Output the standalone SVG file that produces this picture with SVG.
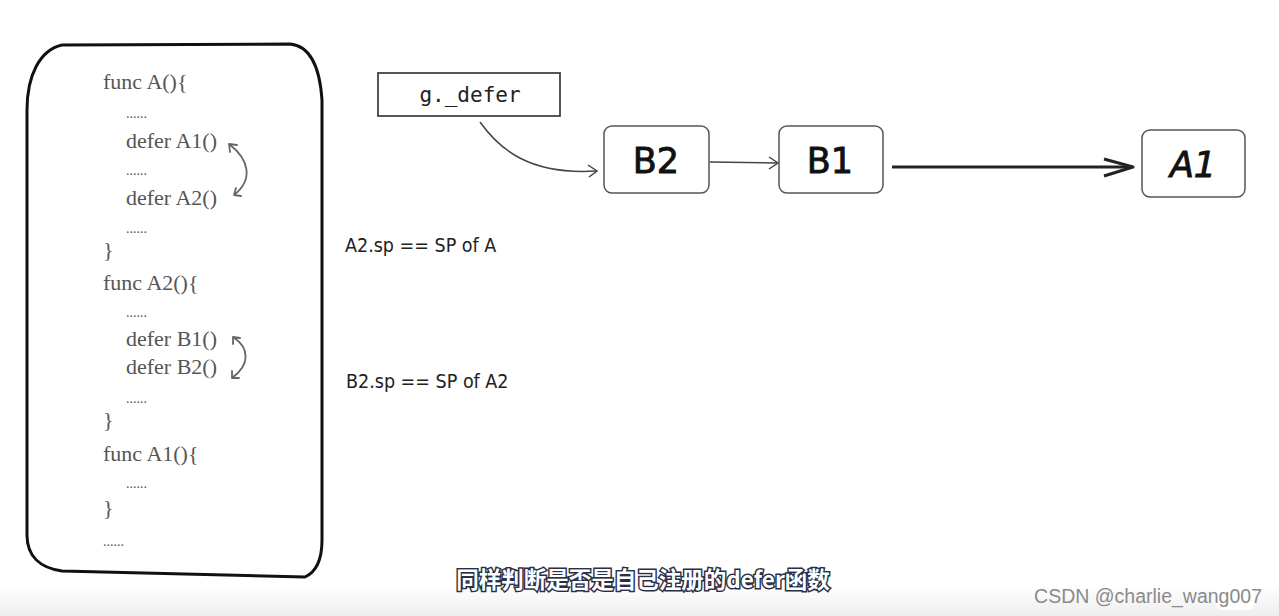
<svg xmlns="http://www.w3.org/2000/svg" width="1279" height="616" viewBox="0 0 1279 616">
<defs>
<style>
.code{font-family:"Liberation Serif",serif;font-size:22px;fill:#555;}
.dots{font-family:"Liberation Serif",serif;font-size:14px;fill:#555;}
.node{fill:#fff;stroke:#555;stroke-width:1.5;}
.lbl{font-family:"DejaVu Sans","Liberation Sans",sans-serif;fill:#111;stroke:#111;stroke-width:0.9;text-anchor:middle;}
.note{font-family:"DejaVu Sans Condensed","DejaVu Sans",sans-serif;font-size:19.5px;fill:#222;}
.conn{fill:none;stroke:#444;stroke-width:1.5;}
.curv{fill:none;stroke:#666;stroke-width:1.8;stroke-linecap:round;}
</style>
<linearGradient id="bot" x1="0" y1="0" x2="0" y2="1">
<stop offset="0" stop-color="#ffffff"/>
<stop offset="1" stop-color="#eeeeee"/>
</linearGradient>
</defs>
<rect width="1279" height="616" fill="#fff"/>
<rect x="0" y="585" width="1279" height="31" fill="url(#bot)"/>

<g id="codebox">
<path d="M62,45 L290,44 C312,46 320,70 322,100 L322,540 C322,560 316,572 305,577 L62,571 C40,568 27,556 27,535 L27,110 C27,75 40,50 62,45 Z" fill="#fff" stroke="#111" stroke-width="3"/>
<text class="code" x="103" y="89">func A(){</text>
<text class="dots" x="126" y="118">......</text>
<text class="code" x="126" y="148">defer A1()</text>
<text class="dots" x="126" y="175">......</text>
<text class="code" x="126" y="205">defer A2()</text>
<text class="dots" x="126" y="233">......</text>
<text class="code" x="103" y="257">}</text>
<text class="code" x="103" y="290">func A2(){</text>
<text class="dots" x="126" y="317">......</text>
<text class="code" x="126" y="346">defer B1()</text>
<text class="code" x="126" y="374">defer B2()</text>
<text class="dots" x="126" y="403">......</text>
<text class="code" x="103" y="427">}</text>
<text class="code" x="103" y="461">func A1(){</text>
<text class="dots" x="126" y="488">......</text>
<text class="code" x="103" y="515">}</text>
<text class="dots" x="103" y="546">......</text>
<path class="curv" d="M229,144 C250,160 253,180 234,195 M229,144 L230,152 M229,144 L237,145 M234,195 L241,196 M234,195 L236,188"/>
<path class="curv" d="M233,337 C250,348 250,365 232,378 M233,337 L233,344 M233,337 L240,338 M232,378 L232,371 M232,378 L239,378"/>
</g>

<g id="connectors">
<path class="conn" d="M480,122 C500,150 530,175 596,171"/>
<path class="conn" d="M588,165 L597,171 L589,177"/>
<path class="conn" d="M710,162 L777,163"/>
<path class="conn" d="M769,157 L778,163 L769,169"/>
<path d="M892,167 L1132,167" fill="none" stroke="#222" stroke-width="3"/>
<path d="M1104,159 L1133,167 L1104,176" fill="none" stroke="#222" stroke-width="3" stroke-linejoin="round"/>
</g>

<g id="gdefer">
<rect x="378" y="73" width="182" height="43" fill="#fff" stroke="#444" stroke-width="1.8"/>
<text x="470" y="102" font-family="DejaVu Sans Mono,monospace" font-size="21" fill="#222" text-anchor="middle">g._defer</text>
</g>

<g id="B2">
<rect class="node" x="604" y="126" width="105" height="67" rx="8"/>
<text class="lbl" x="656" y="173" font-size="35">B2</text>
</g>
<g id="B1">
<rect class="node" x="779" y="126" width="104" height="67" rx="8"/>
<text class="lbl" x="830" y="173" font-size="35">B1</text>
</g>
<g id="A1">
<rect class="node" x="1142" y="130" width="103" height="67" rx="8"/>
<text class="lbl" x="1193" y="177" font-size="35" font-style="italic" stroke-width="0.5">A1</text>
</g>

<text class="note" x="345" y="252">A2.sp == SP of A</text>
<text class="note" x="346" y="388">B2.sp == SP of A2</text>

<text x="643" y="588" font-family="Noto Sans CJK SC,sans-serif" font-size="22.5" font-weight="bold" fill="#fff" stroke="#2a2f45" stroke-width="3" paint-order="stroke" text-anchor="middle">同样判断是否是自己注册的defer函数</text>

<rect x="1215" y="575" width="40" height="35" rx="8" fill="#fff" opacity="0.9"/>
<text x="1262" y="603" font-family="Liberation Sans,sans-serif" font-size="19.5" fill="#8a8a8a" text-anchor="end">CSDN @charlie_wang007</text>
</svg>
